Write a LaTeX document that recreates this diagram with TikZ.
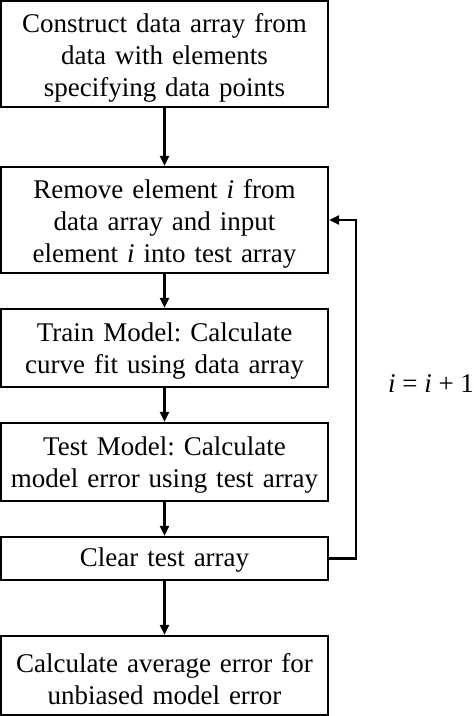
\documentclass[tikz,border=0pt]{standalone}
\usepackage{fontspec}
\setmainfont{Liberation Serif}
\usetikzlibrary{arrows.meta}
\begin{document}
\begin{tikzpicture}[x=1pt,y=-1pt,
  box/.style={draw,line width=2.4pt,minimum width=327pt,inner sep=0pt},
  txt/.style={text width=325pt,align=center,inner sep=0pt,font=\fontsize{27}{32}\selectfont\frenchspacing},
  arr/.style={line width=2.4pt,-{Triangle[length=10pt,width=9pt]}}]
\useasboundingbox (0,0) rectangle (474,716);
\node[box,minimum height=106pt] (b1) at (164.5,54) {};
\node[box,minimum height=106pt] (b2) at (164.5,220) {};
\node[box,minimum height=78pt] (b3) at (164.5,348) {};
\node[box,minimum height=78pt] (b4) at (164.5,462) {};
\node[box,minimum height=43pt] (b5) at (164.5,558.5) {};
\node[box,minimum height=79pt] (b6) at (164.5,675.5) {};
\node[txt] (t1) at ([yshift=-3.5pt]b1.center) {Construct data array from\\data with elements\\specifying data points};
\node[txt] (t2) at ([yshift=-3.5pt]b2.center) {Remove element \textit{i} from\\data array and input\\element \textit{i} into test array};
\node[txt] (t3) at ([yshift=-3.5pt]b3.center) {Train Model: Calculate\\curve fit using data array};
\node[txt] (t4) at ([yshift=-3.5pt]b4.center) {Test Model: Calculate\\model error using test array};
\node[txt] (t5) at ([yshift=-2pt]b5.center) {Clear test array};
\node[txt] (t6) at ([yshift=-3.5pt]b6.center) {Calculate average error for\\unbiased model error};
\node[font=\fontsize{27}{32}\selectfont] (lab) at (431,384) {\textit{i} = \textit{i} + 1};
\coordinate (c1) at (356,558.5);
\coordinate (c2) at (356,220);
\draw[arr] (b1) -- (b2);
\draw[arr] (b2) -- (b3);
\draw[arr] (b3) -- (b4);
\draw[arr] (b4) -- (b5);
\draw[arr] (b5) -- (b6);
\draw[arr] (b5.east) -- (c1) -- (c2) -- (b2.east);
\end{tikzpicture}
\end{document}
